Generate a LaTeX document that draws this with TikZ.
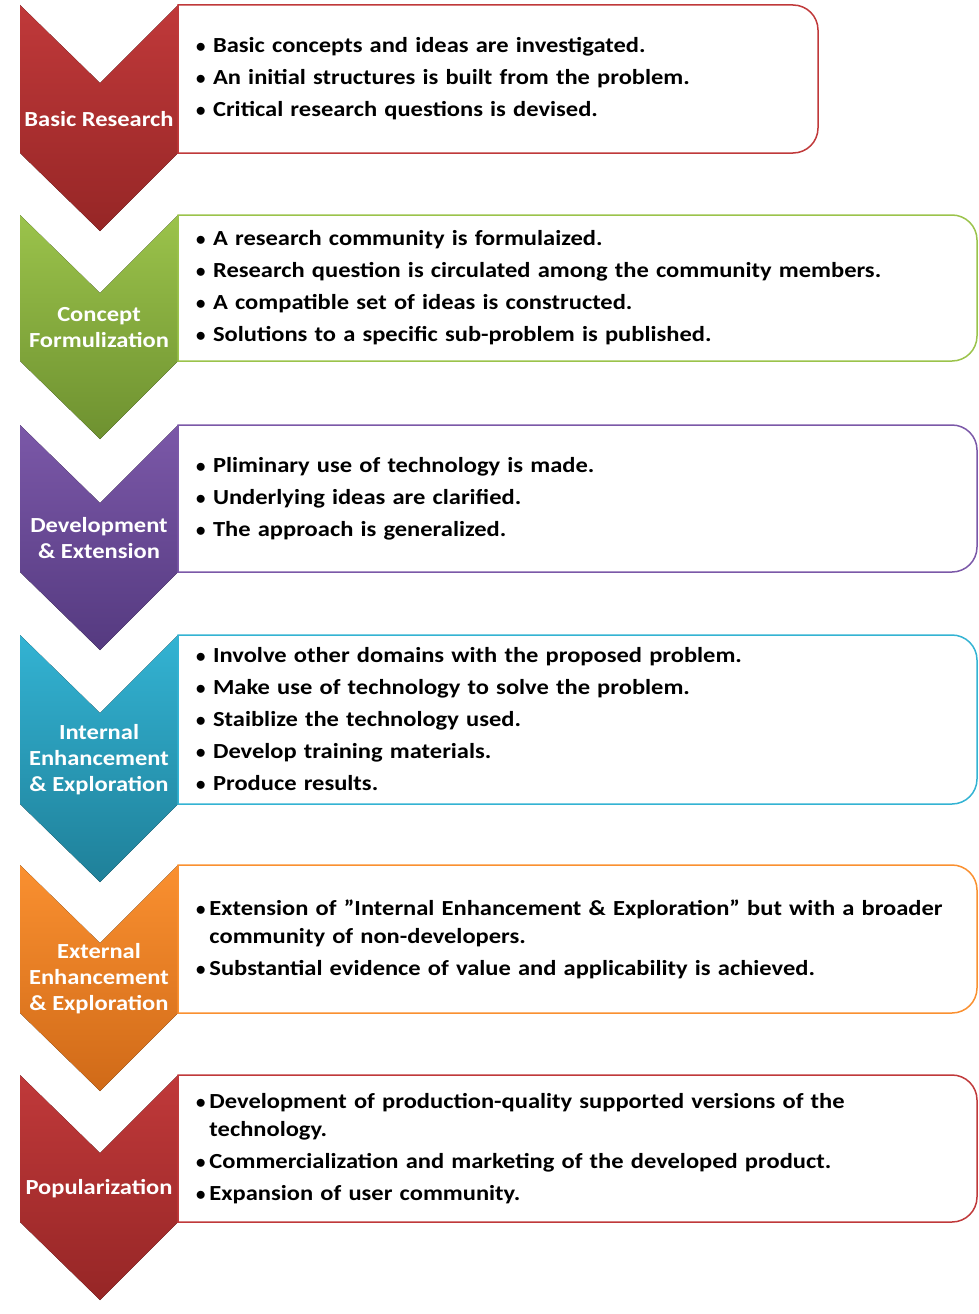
\documentclass[tikz,border=0pt]{standalone}
\usepackage{fontspec}
\setmainfont{Carlito}[FakeStretch=1.14]
\begin{document}
\begin{tikzpicture}[x=1pt,y=-1pt,
  lbl/.style={text=white,font=\bfseries\fontsize{21.5}{26}\selectfont,align=center},
  txt/.style={anchor=west,font=\bfseries\fontsize{21.5}{32}\selectfont,align=left,text width=770pt},
]
\useasboundingbox (0,0) rectangle (978,1314);
\definecolor{cRed}{HTML}{C0393A}\definecolor{cRedD}{HTML}{962626}
\definecolor{cGrn}{HTML}{9BC34B}\definecolor{cGrnD}{HTML}{6E9130}
\definecolor{cPur}{HTML}{7B58A8}\definecolor{cPurD}{HTML}{553A80}
\definecolor{cCya}{HTML}{33B3D3}\definecolor{cCyaD}{HTML}{1F8099}
\definecolor{cOra}{HTML}{FA9030}\definecolor{cOraD}{HTML}{D06A18}
\newcommand{\row}[8]{% top, bottom, right, light, dark, name, label, text
  \fill[top color=#4,bottom color=#5] (20,#1) -- (100,#1+78) -- (178,#1) -- (178,#2) -- (100,#2+78) -- (20,#2) -- cycle;
  \draw[#4,line width=1.5pt,fill=white] (178,#1) [rounded corners=25pt] -- (#3,#1) -- (#3,#2) [rounded corners=0pt] -- (178,#2) -- cycle;
  \node[lbl] (#6) at (99,{(#1+#2)/2+40}) {#7};
  \node[txt] (#6t) at (192,{(#1+#2)/2}) {#8};
}
\row{5}{153}{818}{cRed}{cRedD}{a}{Basic Research}{%
$\bullet$ Basic concepts and ideas are investigated.\\
$\bullet$ An initial structures is built from the problem.\\
$\bullet$ Critical research questions is devised.}
\row{215}{361}{977}{cGrn}{cGrnD}{b}{Concept\\Formulization}{%
$\bullet$ A research community is formulaized.\\
$\bullet$ Research question is circulated among the community members.\\
$\bullet$ A compatible set of ideas is constructed.\\
$\bullet$ Solutions to a specific sub-problem is published.}
\row{425}{572}{977}{cPur}{cPurD}{c}{Development\\\& Extension}{%
$\bullet$ Pliminary use of technology is made.\\
$\bullet$ Underlying ideas are clarified.\\
$\bullet$ The approach is generalized.}
\row{635}{804}{977}{cCya}{cCyaD}{d}{Internal\\Enhancement\\\& Exploration}{%
$\bullet$ Involve other domains with the proposed problem.\\
$\bullet$ Make use of technology to solve the problem.\\
$\bullet$ Staiblize the technology used.\\
$\bullet$ Develop training materials.\\
$\bullet$ Produce results.}
\row{865}{1013}{977}{cOra}{cOraD}{e}{External\\Enhancement\\\& Exploration}{%
\begin{tabular}{@{}l@{\,}l@{}}
$\bullet$ & Extension of "Internal Enhancement \& Exploration" but with a broader\\[-4pt]
 & community of non-developers.\\
$\bullet$ & Substantial evidence of value and applicability is achieved.
\end{tabular}}
\row{1075}{1222}{977}{cRed}{cRedD}{f}{Popularization}{%
\begin{tabular}{@{}l@{\,}l@{}}
$\bullet$ & Development of production-quality supported versions of the\\[-4pt]
 & technology.\\
$\bullet$ & Commercialization and marketing of the developed product.\\
$\bullet$ & Expansion of user community.
\end{tabular}}
\end{tikzpicture}
\end{document}
